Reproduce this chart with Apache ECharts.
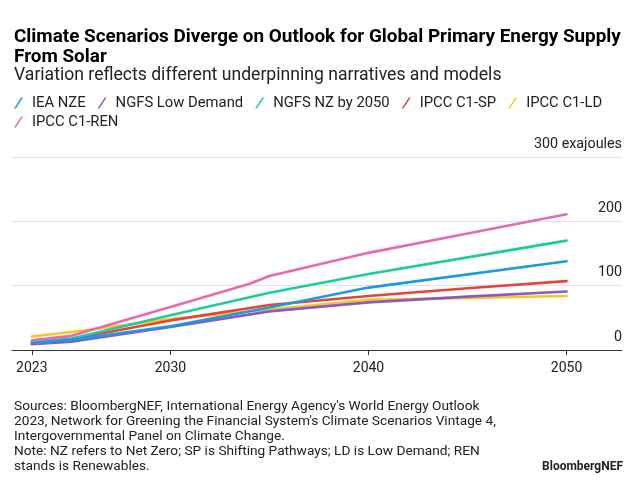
<!DOCTYPE html>
<html>
<head>
<meta charset="utf-8">
<script src="https://cdn.jsdelivr.net/npm/echarts@6/dist/echarts.min.js"></script>
<style>
html,body{margin:0;padding:0;background:#fff;}
#chart{width:640px;height:483px;}
</style>
</head>
<body>
<div id="chart"></div>
<script>
// ---- Data (exajoules) ----
const seriesNames = ["IEA NZE", "NGFS Low Demand", "NGFS NZ by 2050", "IPCC C1-SP", "IPCC C1-LD", "IPCC C1-REN"];
const yearsStd = [2023, 2025, 2030, 2035, 2040, 2045, 2050];
const ieaYears = [2023, 2025, 2030, 2035, 2040, 2050];
const renYears = [2023, 2025, 2030, 2034, 2035, 2040, 2045, 2050];
const ieaNZE = [11, 16, 37, 66, 97, 138];
const ngfsLowDemand = [9, 13, 36, 60, 74, 83, 91];
const ngfsNZ2050 = [12, 18, 54, 89, 118, 144, 170];
const ipccC1SP = [11, 17, 46, 70, 84, 96, 107];
const ipccC1LD = [21, 28, 48, 63, 78, 81, 84];
const ipccC1REN = [15, 22, 67, 103, 115, 151, 181, 211];
const xTickYears = [2023, 2030, 2040, 2050];
const yUnit = "exajoules";

const colors = ["#1b9ae0", "#8a5cc2", "#1fcb9e", "#e8433b", "#f7c824", "#e56bae"];
const FONT = "Roboto";

function pairs(xs, ys) { return xs.map((x, i) => [x, ys[i]]); }
const seriesData = [
  pairs(ieaYears, ieaNZE),
  pairs(yearsStd, ngfsLowDemand),
  pairs(yearsStd, ngfsNZ2050),
  pairs(yearsStd, ipccC1SP),
  pairs(yearsStd, ipccC1LD),
  pairs(renYears, ipccC1REN)
];
const zOrder = [8, 6, 5, 4, 3, 7];

const slash = 'path://M0,11 L1.8,11 L9,0 L7.2,0 Z';

const chart = echarts.init(document.getElementById('chart'), null, {renderer: 'canvas'});
chart.setOption({
  animation: false,
  backgroundColor: '#fff',
  color: colors,
  title: [
    {
      text: "Climate Scenarios Diverge on Outlook for Global Primary Energy Supply\nFrom Solar",
      left: 14, top: 27, padding: 0,
      textStyle: {fontFamily: FONT, fontWeight: 'bold', fontSize: 18.9, color: '#000', lineHeight: 20}
    },
    {
      text: "Variation reflects different underpinning narratives and models",
      left: 14, top: 66, padding: 0,
      textStyle: {fontFamily: FONT, fontWeight: 'normal', fontSize: 17.6, color: '#222', lineHeight: 20}
    },
    {
      text: "Sources: BloombergNEF, International Energy Agency's World Energy Outlook\n2023, Network for Greening the Financial System's Climate Scenarios Vintage 4,\nIntergovernmental Panel on Climate Change.\nNote: NZ refers to Net Zero; SP is Shifting Pathways; LD is Low Demand; REN\nstands is Renewables.",
      left: 14, top: 399.5, padding: 0,
      textStyle: {fontFamily: FONT, fontWeight: 'normal', fontSize: 13.7, color: '#222', lineHeight: 15}
    },
    {
      text: "BloombergNEF",
      right: 17, top: 459.5, padding: 0,
      textStyle: {fontFamily: FONT, fontWeight: 'bold', fontSize: 12, color: '#222', lineHeight: 15}
    }
  ],
  legend: {
    left: 14, top: 94.5, width: 620, padding: 0,
    itemWidth: 9, itemHeight: 11, itemGap: 2,
    icon: slash,
    data: seriesNames,
    textStyle: {fontFamily: FONT, fontSize: 14.8, color: '#222', lineHeight: 17, padding: [0, 10, 0, 4]},
    selectedMode: false
  },
  grid: {left: 12, right: 18, top: 157, bottom: 133, containLabel: false},
  xAxis: {
    type: 'value', min: 2022, max: 2052.8,
    axisLine: {show: true, lineStyle: {color: '#333', width: 1}},
    axisTick: {show: true, customValues: xTickYears, length: 5, lineStyle: {color: '#333'}},
    axisLabel: {customValues: xTickYears, margin: 11, fontFamily: FONT, fontSize: 14, color: '#222', formatter: v => String(v)},
    splitLine: {show: false}
  },
  yAxis: {
    type: 'value', min: 0, max: 300, interval: 100, position: 'right',
    axisLine: {show: false}, axisTick: {show: false},
    axisLabel: {
      inside: true, margin: 0, align: 'right', verticalAlign: 'bottom',
      padding: [0, 0, 6, 0],
      fontFamily: FONT, fontSize: 14.3, color: '#222',
      formatter: v => v === 300 ? v + " " + yUnit : String(v)
    },
    splitLine: {show: true, lineStyle: {color: '#e2e2e2', width: 1}}
  },
  series: seriesData.map((d, i) => ({
    name: seriesNames[i], type: 'line', data: d,
    showSymbol: false, symbol: 'none', smooth: false,
    lineStyle: {width: 2.6, color: colors[i], cap: 'round', join: 'round'},
    itemStyle: {color: colors[i]},
    z: zOrder[i]
  }))
});
</script>
</body>
</html>
